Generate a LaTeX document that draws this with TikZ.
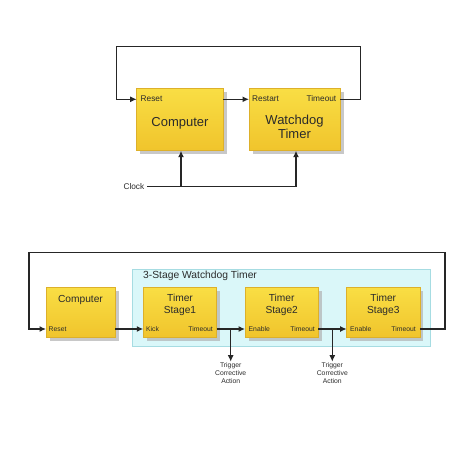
\documentclass[tikz,border=0pt]{standalone}
\usepackage{fontspec}
\setmainfont{Liberation Sans}
\usetikzlibrary{arrows.meta,shadows}
\definecolor{ytop}{HTML}{F9DE44}
\definecolor{ybot}{HTML}{F0C42C}
\definecolor{yedge}{HTML}{DDB02A}
\definecolor{cyanfill}{HTML}{DAF7F9}
\definecolor{cyanedge}{HTML}{A6DCE2}
\definecolor{ink}{HTML}{262626}
\definecolor{txt}{HTML}{2B2B2B}
\begin{document}
\begin{tikzpicture}[x=1pt,y=-1pt,
  ybox/.style={draw=yedge,line width=0.6pt,top color=ytop,bottom color=ybot,
    drop shadow={shadow xshift=3.5pt,shadow yshift=-3.5pt,fill=black!30,opacity=0.7},
    inner sep=0pt,outer sep=0pt},
  wire/.style={draw=ink,line width=1.5pt},
  arr/.style={wire,-{Latex[length=6.5pt,width=6pt]}},
  bigtitle/.style={text=txt,font=\fontsize{13}{14}\selectfont,align=center,inner sep=0pt},
  smalltitle/.style={text=txt,font=\fontsize{10.2}{11.7}\selectfont,align=center,inner sep=0pt},
  biglabel/.style={text=txt,font=\fontsize{8.3}{9}\selectfont,inner sep=0pt},
  smalllabel/.style={text=txt,font=\fontsize{6.8}{8}\selectfont,inner sep=0pt},
  trig/.style={text=txt,font=\fontsize{6.8}{8}\selectfont,align=center,inner sep=0pt,anchor=north}
]
\fill[white] (0,0) rectangle (474,474);
\useasboundingbox (0,0) rectangle (474,474);

% ---------- top diagram ----------
\node[ybox,minimum width=86.6pt,minimum height=62.4pt] (comp) at (180,119.5) {};
\node[ybox,minimum width=91pt,minimum height=62.4pt] (wd) at (294.5,119.5) {};
\node[bigtitle] (compt) at (180,123.5) {Computer};
\node[bigtitle] (wdt) at (294.5,127) {Watchdog\\Timer};
\node[biglabel,anchor=west] (lreset) at (140.5,99) {Reset};
\node[biglabel,anchor=west] (lrestart) at (252,99) {Restart};
\node[biglabel,anchor=east] (ltimeout) at (336.5,99) {Timeout};
\node[biglabel,anchor=east] (clock) at (144.5,187) {Clock};

\coordinate (tA) at (360.7,99.3);
\coordinate (tB) at (360.7,46.7);
\coordinate (tC) at (116.7,46.7);
\coordinate (tD) at (116.7,99.3);
\coordinate (ck0) at (147,186.7);
\coordinate (ck1) at (181,186.7);
\coordinate (ck2) at (296,186.7);

\draw[arr] (wd.east |- tA) -- (tA) -- (tB) -- (tC) -- (tD) -- (comp.west |- tD);
\draw[arr] (comp.east |- tA) -- (wd.west |- tA);
\draw[wire] (ck0) -- (ck2);
\draw[arr] (ck1) -- (ck1 |- comp.south);
\draw[arr] (ck2) -- (ck2 |- wd.south);

% ---------- bottom diagram ----------
\node[draw=cyanedge,fill=cyanfill,line width=0.6pt,minimum width=297.3pt,minimum height=77.7pt,inner sep=0pt] (wdog) at (281.35,307.85) {};
\node[text=txt,font=\fontsize{10.3}{11}\selectfont,anchor=west,inner sep=0pt] (wdogt) at (143,276) {3-Stage Watchdog Timer};

\node[ybox,minimum width=69pt,minimum height=50.4pt] (bcomp) at (80.5,312.5) {};
\node[ybox,minimum width=73.4pt,minimum height=50.4pt] (s1) at (180,312.5) {};
\node[ybox,minimum width=73.3pt,minimum height=50.4pt] (s2) at (281.7,312.5) {};
\node[ybox,minimum width=73.3pt,minimum height=50.4pt] (s3) at (383.3,312.5) {};

\node[smalltitle] (bcompt) at (80.5,300) {Computer};
\node[smalltitle] (s1t) at (180,305) {Timer\\Stage1};
\node[smalltitle] (s2t) at (281.7,305) {Timer\\Stage2};
\node[smalltitle] (s3t) at (383.3,305) {Timer\\Stage3};

\node[smalllabel,anchor=west] (breset) at (48.5,329) {Reset};
\node[smalllabel,anchor=west] (kick) at (146,329) {Kick};
\node[smalllabel,anchor=east] (to1) at (213,329) {Timeout};
\node[smalllabel,anchor=west] (en2) at (248.5,329) {Enable};
\node[smalllabel,anchor=east] (to2) at (315,329) {Timeout};
\node[smalllabel,anchor=west] (en3) at (350,329) {Enable};
\node[smalllabel,anchor=east] (to3) at (416,329) {Timeout};

\coordinate (bA) at (445,329);
\coordinate (bB) at (445,252.3);
\coordinate (bC) at (29,252.3);
\coordinate (bD) at (29,329);
\coordinate (j1) at (230.7,329);
\coordinate (j2) at (332.3,329);
\coordinate (d1) at (230.7,361.7);
\coordinate (d2) at (332.3,361.7);

\draw[arr] (s3.east |- bA) -- (bA) -- (bB) -- (bC) -- (bD) -- (bcomp.west |- bD);
\draw[arr] (bcomp.east |- bA) -- (s1.west |- bA);
\draw[arr] (s1.east |- j1) -- (s2.west |- j1);
\draw[arr] (s2.east |- j2) -- (s3.west |- j2);
\draw[arr] (j1) -- (d1);
\draw[arr] (j2) -- (d2);

\node[trig] (tr1) at (230.7,362) {Trigger\\Corrective\\Action};
\node[trig] (tr2) at (332.3,362) {Trigger\\Corrective\\Action};
\end{tikzpicture}
\end{document}
